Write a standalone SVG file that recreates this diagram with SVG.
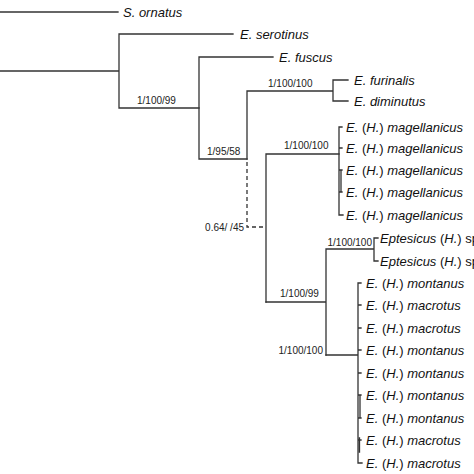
<svg xmlns="http://www.w3.org/2000/svg" width="474" height="474" viewBox="0 0 474 474">
<style>
.br{stroke:#333;stroke-width:1.3;fill:none;stroke-linecap:square}
.dash{stroke:#333;stroke-width:1.3;fill:none;stroke-dasharray:4,3}
.tx{font-family:"Liberation Sans",Arial,sans-serif;font-style:italic;font-size:13px;fill:#111}
.up{font-style:normal}
.sp{font-family:"Liberation Sans",Arial,sans-serif;font-size:10px;fill:#222}
</style>
<rect width="474" height="474" fill="#fff"/>
<g id="connectors">
<path class="br" d="M0,12H118"/>
<path class="br" d="M0,71H119M119,34V108M119,34H233M119,108H199"/>
<path class="br" d="M199,57V159M199,57H273M199,159H247"/>
<path class="br" d="M247,91V159M247,91H333M333,80V101M333,80H348M333,101H348"/>
<path class="dash" d="M247,162V227H266"/>
<path class="br" d="M266,154V302M266,154H339"/>
<path class="br" d="M339,127V215M339,127H342M339,148H342M339,170H342M339,192H342M339,215H343M341,170V192"/>
<path class="br" d="M266,302H326M326,249V355M326,249H374M374,238V261M374,238H378M374,261H378"/>
<path class="br" d="M326,355H358M358,283V463M358,283H361M358,305H361M358,328H361M358,350H361M358,373H361M358,395H361M358,418H361M358,440H361M358,463H362M360,395V418M359.5,438V452"/>
</g>
<g id="support" class="sp">
<text x="137" y="104">1/100/99</text>
<text x="207" y="155">1/95/58</text>
<text x="268" y="87">1/100/100</text>
<text x="244" y="231" text-anchor="end">0.64/ /45</text>
<text x="284" y="149">1/100/100</text>
<text x="372" y="246" text-anchor="end">1/100/100</text>
<text x="280" y="297">1/100/99</text>
<text x="323" y="354" text-anchor="end">1/100/100</text>
</g>
<g id="n-ornatus"><text class="tx" x="123" y="16.5">S. ornatus</text></g>
<g id="n-serotinus"><text class="tx" x="240" y="39">E. serotinus</text></g>
<g id="n-fuscus"><text class="tx" x="279" y="62">E. fuscus</text></g>
<g id="n-furinalis"><text class="tx" x="354" y="85">E. furinalis</text></g>
<g id="n-diminutus"><text class="tx" x="354" y="106">E. diminutus</text></g>
<g id="n-mag1"><text class="tx" x="346" y="132">E. <tspan class="up">(</tspan>H.<tspan class="up">)</tspan> magellanicus</text></g>
<g id="n-mag2"><text class="tx" x="346" y="153">E. <tspan class="up">(</tspan>H.<tspan class="up">)</tspan> magellanicus</text></g>
<g id="n-mag3"><text class="tx" x="346" y="175">E. <tspan class="up">(</tspan>H.<tspan class="up">)</tspan> magellanicus</text></g>
<g id="n-mag4"><text class="tx" x="346" y="197">E. <tspan class="up">(</tspan>H.<tspan class="up">)</tspan> magellanicus</text></g>
<g id="n-mag5"><text class="tx" x="346" y="220">E. <tspan class="up">(</tspan>H.<tspan class="up">)</tspan> magellanicus</text></g>
<g id="n-sp1"><text class="tx" x="380" y="243">Eptesicus <tspan class="up">(</tspan>H.<tspan class="up">)</tspan> <tspan class="up">sp</tspan></text></g>
<g id="n-sp2"><text class="tx" x="380" y="266">Eptesicus <tspan class="up">(</tspan>H.<tspan class="up">)</tspan> <tspan class="up">sp</tspan></text></g>
<g id="n-t1"><text class="tx" x="366" y="288">E. <tspan class="up">(</tspan>H.<tspan class="up">)</tspan> montanus</text></g>
<g id="n-t2"><text class="tx" x="366" y="310">E. <tspan class="up">(</tspan>H.<tspan class="up">)</tspan> macrotus</text></g>
<g id="n-t3"><text class="tx" x="366" y="333">E. <tspan class="up">(</tspan>H.<tspan class="up">)</tspan> macrotus</text></g>
<g id="n-t4"><text class="tx" x="366" y="355">E. <tspan class="up">(</tspan>H.<tspan class="up">)</tspan> montanus</text></g>
<g id="n-t5"><text class="tx" x="366" y="378">E. <tspan class="up">(</tspan>H.<tspan class="up">)</tspan> montanus</text></g>
<g id="n-t6"><text class="tx" x="366" y="400">E. <tspan class="up">(</tspan>H.<tspan class="up">)</tspan> montanus</text></g>
<g id="n-t7"><text class="tx" x="366" y="423">E. <tspan class="up">(</tspan>H.<tspan class="up">)</tspan> montanus</text></g>
<g id="n-t8"><text class="tx" x="366" y="445">E. <tspan class="up">(</tspan>H.<tspan class="up">)</tspan> macrotus</text></g>
<g id="n-t9"><text class="tx" x="366" y="468">E. <tspan class="up">(</tspan>H.<tspan class="up">)</tspan> macrotus</text></g>
</svg>
